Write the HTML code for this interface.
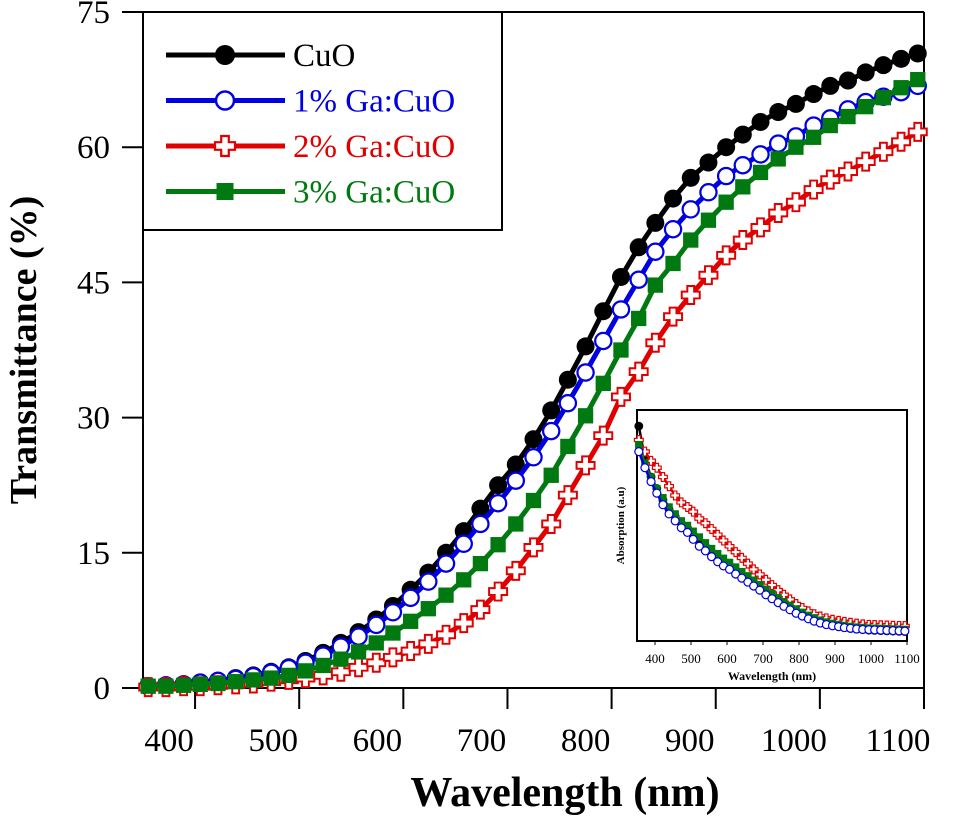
<!DOCTYPE html>
<html><head><meta charset="utf-8"><style>
html,body{margin:0;padding:0;background:#fff;}
svg{display:block;font-family:"Liberation Serif",serif;}
svg text{font-family:"Liberation Serif",serif;}
</style></head><body>
<svg id="chart" width="961" height="816" viewBox="0 0 961 816" xmlns="http://www.w3.org/2000/svg"></svg>
<script>
const wavelengths=[355,372,389,405,422,439,456,473,490,506,523,540,557,574,590,607,624,641,658,674,691,708,725,742,758,775,792,809,826,842,859,876,893,910,926,943,960,977,994,1010,1027,1044,1061,1078,1094];
const cuo=[0.2,0.3,0.4,0.6,0.8,1.1,1.4,1.8,2.3,3.0,3.9,5.0,6.2,7.6,9.1,10.9,12.8,15.0,17.4,19.9,22.5,24.8,27.6,30.8,34.2,37.9,41.8,45.6,48.9,51.6,54.3,56.6,58.3,60.0,61.4,62.8,63.9,64.8,65.9,66.8,67.4,68.3,69.1,69.8,70.4];
const ga1=[0.2,0.3,0.4,0.6,0.8,1.0,1.3,1.7,2.2,2.8,3.6,4.6,5.7,7.0,8.4,10.0,11.8,13.8,16.0,18.2,20.5,23.0,25.6,28.5,31.6,35.0,38.5,42.0,45.3,48.4,50.9,53.1,55.0,56.8,58.0,59.2,60.4,61.2,62.4,63.2,64.2,65.0,65.6,66.1,66.8];
const ga2=[0.1,0.1,0.2,0.2,0.3,0.4,0.5,0.7,0.9,1.1,1.4,1.8,2.3,2.8,3.4,4.1,4.9,5.9,7.2,8.7,10.7,13.0,15.6,18.2,21.4,24.7,28.0,32.3,35.1,38.3,41.2,43.6,45.8,48.0,49.7,51.1,52.7,53.9,55.3,56.4,57.3,58.4,59.5,60.6,61.7];
const ga3=[0.2,0.2,0.3,0.4,0.5,0.7,0.9,1.1,1.4,1.9,2.5,3.2,4.0,5.0,6.1,7.4,8.8,10.3,12.0,13.8,15.9,18.2,20.8,23.6,26.8,30.2,33.8,37.5,41.0,44.7,47.1,49.7,51.9,53.9,55.6,57.2,58.7,60.0,61.1,62.4,63.4,64.5,65.5,66.6,67.5];
const insetCuo=[93,79,71,66,61,57,54,51,49,46,43,41,38.5,36.2,34.3,32.7,30.6,28.8,27,25.2,23.3,21.2,19.4,17.6,15.9,14.3,12.7,11.4,10.1,9.0,8.1,7.3,6.7,6.2,5.8,5.4,5.1,4.9,4.7,4.6,4.5,4.4,4.3,4.2,4.1];
const inset1=[82,75,69,64,59,55,52,49,47,44,41,39,36.5,34.3,32.5,31,29,27.2,25.5,23.8,22,20,18.3,16.6,15,13.5,12,10.8,9.6,8.6,7.8,7.1,6.6,6.2,5.8,5.5,5.2,5.0,4.9,4.8,4.7,4.6,4.5,4.4,4.3];
const inset2=[87,82,78,75,71,67,63,60,58,56,53,51,48.5,46,43.5,41,38.5,36,33.5,31,28.8,26.5,24.2,22,20,18,16,14.3,12.8,11.6,10.6,9.8,9.2,8.7,8.3,7.9,7.5,7.2,7.0,6.9,6.8,6.7,6.6,6.5,6.5];
const inset3=[85,77,71,66,62,58,55,52,50,47.5,45,42.5,40,37.8,35.8,34,32,30,28.2,26.3,24.4,22.4,20.5,18.7,17,15.4,13.8,12.4,11.1,10,9,8.2,7.6,7.1,6.7,6.3,6,5.8,5.6,5.5,5.4,5.3,5.2,5.1,5.0];
const xTicks=[400,500,600,700,800,900,1000,1100];
const yTicks=[0,15,30,45,60,75];
const insetXTicks=[400,500,600,700,800,900,1000,1100];
const legendNames=["CuO","1% Ga:CuO","2% Ga:CuO","3% Ga:CuO"];

const NS="http://www.w3.org/2000/svg";
const svg=document.getElementById('chart');
function mk(tag,attrs,parent){const e=document.createElementNS(NS,tag);for(const k in attrs)e.setAttribute(k,attrs[k]);if(tag==='text')e.setAttribute('font-family','Liberation Serif, serif');(parent||svg).appendChild(e);return e;}
const X0=143,X1=924,Y0=688,Y1=12;
const xs=v=>X0+(v-350)/(1100-350)*(X1-X0);
const ys=v=>Y0-(v/75)*(Y0-Y1);
const IX0=637,IX1=907,IY0=641,IY1=410;
const ixs=v=>IX0+(v-350)/(750)*(IX1-IX0);
const iys=v=>IY0-(v/100)*(IY0-IY1);

function marker(g,type,x,y,s,color){
  let m;
  if(type==='dot'){m=mk('circle',{cx:x,cy:y,r:s,fill:color},g);}
  else if(type==='circle'){m=mk('circle',{cx:x,cy:y,r:s*0.9,fill:'#fff',stroke:color,'stroke-width':Math.max(1.2,s*0.25)},g);}
  else if(type==='cross'){const a=s*0.38,b=s;m=mk('path',{d:`M${x-a},${y-b}H${x+a}V${y-a}H${x+b}V${y+a}H${x+a}V${y+b}H${x-a}V${y+a}H${x-b}V${y-a}H${x-a}Z`,fill:'#fff',stroke:color,'stroke-width':Math.max(1.2,s*0.22)},g);}
  else {m=mk('rect',{x:x-s*0.85,y:y-s*0.85,width:s*1.7,height:s*1.7,fill:color},g);}
  
  
}
const series=[
 {name:'cuo',vals:cuo,ins:insetCuo,color:'#000',type:'dot'},
 {name:'ga1',vals:ga1,ins:inset1,color:'#0000e0',type:'circle'},
 {name:'ga2',vals:ga2,ins:inset2,color:'#e00000',type:'cross'},
 {name:'ga3',vals:ga3,ins:inset3,color:'#007a10',type:'square'}
];
const axes=mk('g',{});


mk('line',{x1:X0,y1:Y1,x2:X1,y2:Y1,stroke:'#000','stroke-width':2},axes);
mk('line',{x1:X1,y1:Y1,x2:X1,y2:Y0,stroke:'#000','stroke-width':2},axes);
mk('line',{x1:X0,y1:Y1,x2:X0,y2:Y0,stroke:'#000','stroke-width':2},axes);
mk('line',{x1:122,y1:Y0,x2:X1,y2:Y0,stroke:'#000','stroke-width':2},axes);
xTicks.forEach(t=>{
  mk('line',{x1:xs(t),y1:Y0,x2:xs(t),y2:Y0+21,stroke:'#000','stroke-width':2},axes);
  const tx=mk('text',{x:xs(t)-26,y:751,'font-size':33,'text-anchor':'middle'},axes);tx.textContent=t;
  
  
});
yTicks.forEach(t=>{
  mk('line',{x1:122,y1:ys(t),x2:X0,y2:ys(t),stroke:'#000','stroke-width':2},axes);
  const tx=mk('text',{x:110,y:ys(t)+11,'font-size':33,'text-anchor':'end'},axes);tx.textContent=t;
  
  
});
const xt=mk('text',{x:565,y:806,'font-size':42,'font-weight':'bold','text-anchor':'middle'});xt.textContent='Wavelength (nm)';


const yt=mk('text',{x:0,y:0,'font-size':38,'font-weight':'bold','text-anchor':'middle',transform:'translate(36,350) rotate(-90)'});yt.textContent='Transmittance (%)';



series.forEach(s=>{
  const g=mk('g',{});
  
  
  const d=wavelengths.map((w,i)=>(i?'L':'M')+xs(w).toFixed(1)+','+ys(s.vals[i]).toFixed(1)).join('');
  mk('path',{d:d,fill:'none',stroke:s.color,'stroke-width':5},g);
  wavelengths.forEach((w,i)=>marker(g,s.type,xs(w),ys(s.vals[i]),9,s.color));
});

const lg=mk('g',{});


mk('rect',{x:X0,y:Y1,width:359,height:218,fill:'#fff',stroke:'#000','stroke-width':2},lg);
series.forEach((s,i)=>{
  const y=55+i*45.5;
  const e=mk('g',{},lg);
  
  
  mk('line',{x1:166,y1:y,x2:285,y2:y,stroke:s.color,'stroke-width':5},e);
  marker(e,s.type,225,y,10,s.color);
  const t=mk('text',{x:293,y:y+11,'font-size':33,fill:s.color},e);t.textContent=legendNames[i];
});

const ig=mk('g',{});


mk('rect',{x:IX0,y:IY1,width:IX1-IX0,height:IY0-IY1,fill:'#fff',stroke:'#000','stroke-width':2},ig);
insetXTicks.forEach(t=>{
  mk('line',{x1:ixs(t),y1:IY0,x2:ixs(t),y2:IY0+4,stroke:'#000','stroke-width':1},ig);
  const tx=mk('text',{x:ixs(t),y:IY0+22,'font-size':13,'text-anchor':'middle'},ig);tx.textContent=t;
  
  
});
const ixt=mk('text',{x:(IX0+IX1)/2,y:IY0+39,'font-size':12,'font-weight':'bold','text-anchor':'middle'},ig);ixt.textContent='Wavelength (nm)';


const iyt=mk('text',{x:0,y:0,'font-size':11,'font-weight':'bold','text-anchor':'middle',transform:`translate(624,${(IY0+IY1)/2}) rotate(-90)`},ig);iyt.textContent='Absorption (a.u)';


[series[0],series[2],series[3],series[1]].forEach(s=>{
  const g=mk('g',{},ig);
  
  
  const d=wavelengths.map((w,i)=>(i?'L':'M')+ixs(w).toFixed(1)+','+iys(s.ins[i]).toFixed(1)).join('');
  mk('path',{d:d,fill:'none',stroke:s.color,'stroke-width':2.5},g);
  wavelengths.forEach((w,i)=>marker(g,s.type,ixs(w),iys(s.ins[i]),4.4,s.color));
});
</script>
</body></html>
